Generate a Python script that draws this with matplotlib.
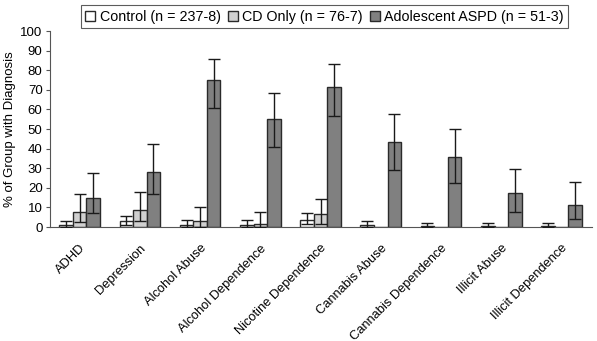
import numpy as np
import matplotlib.pyplot as plt

plt.rcParams['font.family'] = ['Liberation Sans', 'DejaVu Sans']

categories = ["ADHD", "Depression", "Alcohol Abuse", "Alcohol Dependence",
              "Nicotine Dependence", "Cannabis Abuse", "Cannabis Dependence",
              "Illicit Abuse", "Illicit Dependence"]
groups = ["Control (n = 237-8)", "CD Only (n = 76-7)", "Adolescent ASPD (n = 51-3)"]

control = [1, 3, 1, 1, 3.6, 1, 0.5, 0.5, 0.5]
control_lo = [0, 1, 0, 0, 1.5, 0, 0, 0, 0]
control_hi = [3, 5.8, 3.6, 3.6, 7.3, 3, 2.2, 2.2, 2.2]

cd_only = [7.5, 8.7, 3, 1.5, 6.5, 0, 0, 0, 0]
cd_lo = [2.7, 3, 0, 0, 1.5, 0, 0, 0, 0]
cd_hi = [16.7, 18, 10.4, 7.7, 14.5, 0, 0, 0, 0]

aspd = [15, 28.2, 75, 55, 71.6, 43.2, 35.5, 17.2, 11.4]
aspd_lo = [7, 16.7, 60.9, 40.7, 56.8, 29.2, 22.4, 7.8, 4.2]
aspd_hi = [27.4, 42.3, 85.9, 68.2, 83, 57.8, 50, 29.8, 23.1]

fig = plt.figure(figsize=(5.97, 3.41), dpi=100)
ax = fig.add_axes([0.083, 0.334, 0.908, 0.575])

x = np.arange(len(categories))
w = 0.225
series = [(control, control_lo, control_hi, "white"),
          (cd_only, cd_lo, cd_hi, "#d0d0d0"),
          (aspd, aspd_lo, aspd_hi, "#808080")]
handles = []
for i, (vals, lo, hi, col) in enumerate(series):
    vals = np.array(vals)
    err = [vals - np.array(lo), np.array(hi) - vals]
    pos = x + (i - 1) * w
    b = ax.bar(pos, vals, w, color=col, edgecolor="#2a2a2a", linewidth=1.0,
               label=groups[i], zorder=2)
    handles.append(b)
    show = np.array(hi) > 0
    ax.errorbar(pos[show], vals[show], yerr=[err[0][show], err[1][show]],
                fmt="none", ecolor="#1a1a1a", elinewidth=1.0, capsize=4,
                capthick=1.0, zorder=3)

ax.set_xlim(-0.5, len(categories) - 0.5)
ax.set_ylim(0, 100)
ax.set_yticks(range(0, 101, 10))
ax.set_xticks(x)
ax.set_xticklabels(categories, rotation=45, ha="right", rotation_mode="anchor",
                   fontsize=9.3)
ax.tick_params(axis="x", length=0, pad=11)
ax.tick_params(axis="y", labelsize=9.5, length=3, color="#555555", pad=2)
for s in ["top", "right"]:
    ax.spines[s].set_visible(False)
for s in ["left", "bottom"]:
    ax.spines[s].set_color("#555555")
ax.set_ylabel("% of Group with Diagnosis", fontsize=9.5, labelpad=3)

leg = fig.legend(handles=handles, loc="upper center", bbox_to_anchor=(0.5436, 1.005),
                 ncol=3, fontsize=10.3, frameon=True, fancybox=False,
                 handlelength=0.7, handleheight=0.7, handletextpad=0.3,
                 columnspacing=0.5, borderpad=0.3, edgecolor="#333333")
leg.get_frame().set_linewidth(0.8)

fig.savefig("out.png", dpi=100)
